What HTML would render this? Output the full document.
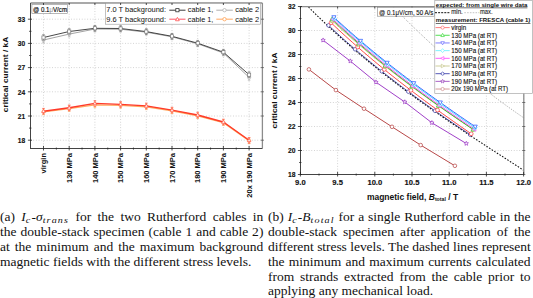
<!DOCTYPE html>
<html><head><meta charset="utf-8"><style>
html,body{margin:0;padding:0;background:#fff;}
body{width:533px;height:298px;position:relative;overflow:hidden;}
.cap{position:absolute;font-family:"Liberation Serif",serif;font-size:11.8px;line-height:14.84px;color:#111;white-space:nowrap;}
.ln{display:block;text-align:justify;text-align-last:justify;height:14.84px;}
.ln.last{text-align-last:left;}
i{font-style:italic;}
sub{font-size:8.8px;vertical-align:-1.6px;line-height:0;font-style:italic;letter-spacing:1.0px;}
</style></head><body>
<svg width="533" height="298" viewBox="0 0 533 298" style="position:absolute;left:0;top:0" font-family='"Liberation Sans", sans-serif'><line x1="43.5" y1="3.0" x2="43.5" y2="148.5" stroke="#c4c4c4" stroke-width="0.8" stroke-dasharray="0.9,1.8"/><line x1="69.2" y1="3.0" x2="69.2" y2="148.5" stroke="#c4c4c4" stroke-width="0.8" stroke-dasharray="0.9,1.8"/><line x1="94.9" y1="3.0" x2="94.9" y2="148.5" stroke="#c4c4c4" stroke-width="0.8" stroke-dasharray="0.9,1.8"/><line x1="120.6" y1="3.0" x2="120.6" y2="148.5" stroke="#c4c4c4" stroke-width="0.8" stroke-dasharray="0.9,1.8"/><line x1="146.3" y1="3.0" x2="146.3" y2="148.5" stroke="#c4c4c4" stroke-width="0.8" stroke-dasharray="0.9,1.8"/><line x1="172" y1="3.0" x2="172" y2="148.5" stroke="#c4c4c4" stroke-width="0.8" stroke-dasharray="0.9,1.8"/><line x1="197.7" y1="3.0" x2="197.7" y2="148.5" stroke="#c4c4c4" stroke-width="0.8" stroke-dasharray="0.9,1.8"/><line x1="223.4" y1="3.0" x2="223.4" y2="148.5" stroke="#c4c4c4" stroke-width="0.8" stroke-dasharray="0.9,1.8"/><line x1="249.1" y1="3.0" x2="249.1" y2="148.5" stroke="#c4c4c4" stroke-width="0.8" stroke-dasharray="0.9,1.8"/><line x1="30.5" y1="19.2" x2="262.4" y2="19.2" stroke="#c4c4c4" stroke-width="0.8" stroke-dasharray="0.9,1.8"/><line x1="30.5" y1="43.4" x2="262.4" y2="43.4" stroke="#c4c4c4" stroke-width="0.8" stroke-dasharray="0.9,1.8"/><line x1="30.5" y1="67.6" x2="262.4" y2="67.6" stroke="#c4c4c4" stroke-width="0.8" stroke-dasharray="0.9,1.8"/><line x1="30.5" y1="91.8" x2="262.4" y2="91.8" stroke="#c4c4c4" stroke-width="0.8" stroke-dasharray="0.9,1.8"/><line x1="30.5" y1="116" x2="262.4" y2="116" stroke="#c4c4c4" stroke-width="0.8" stroke-dasharray="0.9,1.8"/><line x1="30.5" y1="140.2" x2="262.4" y2="140.2" stroke="#c4c4c4" stroke-width="0.8" stroke-dasharray="0.9,1.8"/><polyline points="43.5,40 69.2,34.1 94.9,29 120.6,29.2 146.3,32.2 172,36.8 197.7,43.8 223.4,53 249.1,77.4" fill="none" stroke="#999" stroke-width="0.9" stroke-linejoin="round"/><path d="M43.5,37.2V42.8M42.2,37.2H44.8M42.2,42.8H44.8" stroke="#aaa" stroke-width="0.7" fill="none"/><circle cx="43.5" cy="40" r="1.6" fill="#fff" stroke="#aaa" stroke-width="0.7"/><path d="M69.2,31.3V36.9M67.9,31.3H70.5M67.9,36.9H70.5" stroke="#aaa" stroke-width="0.7" fill="none"/><circle cx="69.2" cy="34.1" r="1.6" fill="#fff" stroke="#aaa" stroke-width="0.7"/><path d="M94.9,26.2V31.8M93.6,26.2H96.2M93.6,31.8H96.2" stroke="#aaa" stroke-width="0.7" fill="none"/><circle cx="94.9" cy="29" r="1.6" fill="#fff" stroke="#aaa" stroke-width="0.7"/><path d="M120.6,26.4V32M119.3,26.4H121.9M119.3,32H121.9" stroke="#aaa" stroke-width="0.7" fill="none"/><circle cx="120.6" cy="29.2" r="1.6" fill="#fff" stroke="#aaa" stroke-width="0.7"/><path d="M146.3,29.4V35M145,29.4H147.6M145,35H147.6" stroke="#aaa" stroke-width="0.7" fill="none"/><circle cx="146.3" cy="32.2" r="1.6" fill="#fff" stroke="#aaa" stroke-width="0.7"/><path d="M172,34V39.6M170.7,34H173.3M170.7,39.6H173.3" stroke="#aaa" stroke-width="0.7" fill="none"/><circle cx="172" cy="36.8" r="1.6" fill="#fff" stroke="#aaa" stroke-width="0.7"/><path d="M197.7,41V46.6M196.4,41H199M196.4,46.6H199" stroke="#aaa" stroke-width="0.7" fill="none"/><circle cx="197.7" cy="43.8" r="1.6" fill="#fff" stroke="#aaa" stroke-width="0.7"/><path d="M223.4,50.2V55.8M222.1,50.2H224.7M222.1,55.8H224.7" stroke="#aaa" stroke-width="0.7" fill="none"/><circle cx="223.4" cy="53" r="1.6" fill="#fff" stroke="#aaa" stroke-width="0.7"/><path d="M249.1,74.6V80.2M247.8,74.6H250.4M247.8,80.2H250.4" stroke="#aaa" stroke-width="0.7" fill="none"/><circle cx="249.1" cy="77.4" r="1.6" fill="#fff" stroke="#aaa" stroke-width="0.7"/><polyline points="43.5,37.5 69.2,31.5 94.9,28.3 120.6,28.5 146.3,31.6 172,36.3 197.7,43.2 223.4,52.2 249.1,74.7" fill="none" stroke="#333" stroke-width="0.9" stroke-linejoin="round"/><path d="M43.5,34.7V40.3M42.2,34.7H44.8M42.2,40.3H44.8" stroke="#777" stroke-width="0.7" fill="none"/><rect x="41.9" y="35.9" width="3.2" height="3.2" fill="#fff" stroke="#777" stroke-width="0.7"/><path d="M69.2,28.7V34.3M67.9,28.7H70.5M67.9,34.3H70.5" stroke="#777" stroke-width="0.7" fill="none"/><rect x="67.6" y="29.9" width="3.2" height="3.2" fill="#fff" stroke="#777" stroke-width="0.7"/><path d="M94.9,25.5V31.1M93.6,25.5H96.2M93.6,31.1H96.2" stroke="#777" stroke-width="0.7" fill="none"/><rect x="93.3" y="26.7" width="3.2" height="3.2" fill="#fff" stroke="#777" stroke-width="0.7"/><path d="M120.6,25.7V31.3M119.3,25.7H121.9M119.3,31.3H121.9" stroke="#777" stroke-width="0.7" fill="none"/><rect x="119" y="26.9" width="3.2" height="3.2" fill="#fff" stroke="#777" stroke-width="0.7"/><path d="M146.3,28.8V34.4M145,28.8H147.6M145,34.4H147.6" stroke="#777" stroke-width="0.7" fill="none"/><rect x="144.7" y="30" width="3.2" height="3.2" fill="#fff" stroke="#777" stroke-width="0.7"/><path d="M172,33.5V39.1M170.7,33.5H173.3M170.7,39.1H173.3" stroke="#777" stroke-width="0.7" fill="none"/><rect x="170.4" y="34.7" width="3.2" height="3.2" fill="#fff" stroke="#777" stroke-width="0.7"/><path d="M197.7,40.4V46M196.4,40.4H199M196.4,46H199" stroke="#777" stroke-width="0.7" fill="none"/><rect x="196.1" y="41.6" width="3.2" height="3.2" fill="#fff" stroke="#777" stroke-width="0.7"/><path d="M223.4,49.4V55M222.1,49.4H224.7M222.1,55H224.7" stroke="#777" stroke-width="0.7" fill="none"/><rect x="221.8" y="50.6" width="3.2" height="3.2" fill="#fff" stroke="#777" stroke-width="0.7"/><path d="M249.1,71.9V77.5M247.8,71.9H250.4M247.8,77.5H250.4" stroke="#777" stroke-width="0.7" fill="none"/><rect x="247.5" y="73.1" width="3.2" height="3.2" fill="#fff" stroke="#777" stroke-width="0.7"/><polyline points="43.5,111.9 69.2,108.6 94.9,104.9 120.6,105.4 146.3,106.8 172,110.8 197.7,115.8 223.4,122.6 249.1,140.8" fill="none" stroke="#ffaa60" stroke-width="1.4" stroke-linejoin="round"/><path d="M43.5,109.1V114.7M42.2,109.1H44.8M42.2,114.7H44.8" stroke="#ffa858" stroke-width="0.7" fill="none"/><circle cx="43.5" cy="111.9" r="1.6" fill="#fff" stroke="#ffa858" stroke-width="0.7"/><path d="M69.2,105.8V111.4M67.9,105.8H70.5M67.9,111.4H70.5" stroke="#ffa858" stroke-width="0.7" fill="none"/><circle cx="69.2" cy="108.6" r="1.6" fill="#fff" stroke="#ffa858" stroke-width="0.7"/><path d="M94.9,102.1V107.7M93.6,102.1H96.2M93.6,107.7H96.2" stroke="#ffa858" stroke-width="0.7" fill="none"/><circle cx="94.9" cy="104.9" r="1.6" fill="#fff" stroke="#ffa858" stroke-width="0.7"/><path d="M120.6,102.6V108.2M119.3,102.6H121.9M119.3,108.2H121.9" stroke="#ffa858" stroke-width="0.7" fill="none"/><circle cx="120.6" cy="105.4" r="1.6" fill="#fff" stroke="#ffa858" stroke-width="0.7"/><path d="M146.3,104V109.6M145,104H147.6M145,109.6H147.6" stroke="#ffa858" stroke-width="0.7" fill="none"/><circle cx="146.3" cy="106.8" r="1.6" fill="#fff" stroke="#ffa858" stroke-width="0.7"/><path d="M172,108V113.6M170.7,108H173.3M170.7,113.6H173.3" stroke="#ffa858" stroke-width="0.7" fill="none"/><circle cx="172" cy="110.8" r="1.6" fill="#fff" stroke="#ffa858" stroke-width="0.7"/><path d="M197.7,113V118.6M196.4,113H199M196.4,118.6H199" stroke="#ffa858" stroke-width="0.7" fill="none"/><circle cx="197.7" cy="115.8" r="1.6" fill="#fff" stroke="#ffa858" stroke-width="0.7"/><path d="M223.4,119.8V125.4M222.1,119.8H224.7M222.1,125.4H224.7" stroke="#ffa858" stroke-width="0.7" fill="none"/><circle cx="223.4" cy="122.6" r="1.6" fill="#fff" stroke="#ffa858" stroke-width="0.7"/><path d="M249.1,138V143.6M247.8,138H250.4M247.8,143.6H250.4" stroke="#ffa858" stroke-width="0.7" fill="none"/><circle cx="249.1" cy="140.8" r="1.6" fill="#fff" stroke="#ffa858" stroke-width="0.7"/><polyline points="43.5,111.2 69.2,107.8 94.9,103.4 120.6,104.4 146.3,105.9 172,110.1 197.7,115 223.4,122 249.1,140.3" fill="none" stroke="#ff3a2a" stroke-width="1.4" stroke-linejoin="round"/><path d="M43.5,108.4V114M42.2,108.4H44.8M42.2,114H44.8" stroke="#ff5a4a" stroke-width="0.7" fill="none"/><polygon points="43.5,109.28 41.74,112.48 45.26,112.48" fill="#fff" stroke="#ff5a4a" stroke-width="0.7"/><path d="M69.2,105V110.6M67.9,105H70.5M67.9,110.6H70.5" stroke="#ff5a4a" stroke-width="0.7" fill="none"/><polygon points="69.2,105.88 67.44,109.08 70.96,109.08" fill="#fff" stroke="#ff5a4a" stroke-width="0.7"/><path d="M94.9,100.6V106.2M93.6,100.6H96.2M93.6,106.2H96.2" stroke="#ff5a4a" stroke-width="0.7" fill="none"/><polygon points="94.9,101.48 93.14,104.68 96.66,104.68" fill="#fff" stroke="#ff5a4a" stroke-width="0.7"/><path d="M120.6,101.6V107.2M119.3,101.6H121.9M119.3,107.2H121.9" stroke="#ff5a4a" stroke-width="0.7" fill="none"/><polygon points="120.6,102.48 118.84,105.68 122.36,105.68" fill="#fff" stroke="#ff5a4a" stroke-width="0.7"/><path d="M146.3,103.1V108.7M145,103.1H147.6M145,108.7H147.6" stroke="#ff5a4a" stroke-width="0.7" fill="none"/><polygon points="146.3,103.98 144.54,107.18 148.06,107.18" fill="#fff" stroke="#ff5a4a" stroke-width="0.7"/><path d="M172,107.3V112.9M170.7,107.3H173.3M170.7,112.9H173.3" stroke="#ff5a4a" stroke-width="0.7" fill="none"/><polygon points="172,108.18 170.24,111.38 173.76,111.38" fill="#fff" stroke="#ff5a4a" stroke-width="0.7"/><path d="M197.7,112.2V117.8M196.4,112.2H199M196.4,117.8H199" stroke="#ff5a4a" stroke-width="0.7" fill="none"/><polygon points="197.7,113.08 195.94,116.28 199.46,116.28" fill="#fff" stroke="#ff5a4a" stroke-width="0.7"/><path d="M223.4,119.2V124.8M222.1,119.2H224.7M222.1,124.8H224.7" stroke="#ff5a4a" stroke-width="0.7" fill="none"/><polygon points="223.4,120.08 221.64,123.28 225.16,123.28" fill="#fff" stroke="#ff5a4a" stroke-width="0.7"/><path d="M249.1,137.5V143.1M247.8,137.5H250.4M247.8,143.1H250.4" stroke="#ff5a4a" stroke-width="0.7" fill="none"/><polygon points="249.1,138.38 247.34,141.58 250.86,141.58" fill="#fff" stroke="#ff5a4a" stroke-width="0.7"/><line x1="30.5" y1="3.0" x2="262.4" y2="3.0" stroke="#8c8c8c" stroke-width="1.3"/><line x1="262.4" y1="3.0" x2="262.4" y2="148.5" stroke="#8c8c8c" stroke-width="1.3"/><line x1="30.5" y1="3.0" x2="30.5" y2="149.0" stroke="#444" stroke-width="1"/><line x1="30.0" y1="148.5" x2="262.4" y2="148.5" stroke="#444" stroke-width="1"/><line x1="27.9" y1="19.2" x2="32.0" y2="19.2" stroke="#222" stroke-width="0.8"/><line x1="260.9" y1="19.2" x2="263.9" y2="19.2" stroke="#555" stroke-width="0.8"/><text x="25.2" y="22.05" font-size="7.8" font-weight="bold" text-anchor="end" textLength="7.4" lengthAdjust="spacingAndGlyphs" fill="#111" stroke="#111" stroke-width="0.15">33</text><line x1="29.0" y1="31.3" x2="31.5" y2="31.3" stroke="#222" stroke-width="0.7"/><line x1="27.9" y1="43.4" x2="32.0" y2="43.4" stroke="#222" stroke-width="0.8"/><line x1="260.9" y1="43.4" x2="263.9" y2="43.4" stroke="#555" stroke-width="0.8"/><text x="25.2" y="46.25" font-size="7.8" font-weight="bold" text-anchor="end" textLength="7.4" lengthAdjust="spacingAndGlyphs" fill="#111" stroke="#111" stroke-width="0.15">30</text><line x1="29.0" y1="55.5" x2="31.5" y2="55.5" stroke="#222" stroke-width="0.7"/><line x1="27.9" y1="67.6" x2="32.0" y2="67.6" stroke="#222" stroke-width="0.8"/><line x1="260.9" y1="67.6" x2="263.9" y2="67.6" stroke="#555" stroke-width="0.8"/><text x="25.2" y="70.45" font-size="7.8" font-weight="bold" text-anchor="end" textLength="7.4" lengthAdjust="spacingAndGlyphs" fill="#111" stroke="#111" stroke-width="0.15">27</text><line x1="29.0" y1="79.7" x2="31.5" y2="79.7" stroke="#222" stroke-width="0.7"/><line x1="27.9" y1="91.8" x2="32.0" y2="91.8" stroke="#222" stroke-width="0.8"/><line x1="260.9" y1="91.8" x2="263.9" y2="91.8" stroke="#555" stroke-width="0.8"/><text x="25.2" y="94.65" font-size="7.8" font-weight="bold" text-anchor="end" textLength="7.4" lengthAdjust="spacingAndGlyphs" fill="#111" stroke="#111" stroke-width="0.15">24</text><line x1="29.0" y1="103.9" x2="31.5" y2="103.9" stroke="#222" stroke-width="0.7"/><line x1="27.9" y1="116" x2="32.0" y2="116" stroke="#222" stroke-width="0.8"/><line x1="260.9" y1="116" x2="263.9" y2="116" stroke="#555" stroke-width="0.8"/><text x="25.2" y="118.85" font-size="7.8" font-weight="bold" text-anchor="end" textLength="7.4" lengthAdjust="spacingAndGlyphs" fill="#111" stroke="#111" stroke-width="0.15">21</text><line x1="29.0" y1="128.1" x2="31.5" y2="128.1" stroke="#222" stroke-width="0.7"/><line x1="27.9" y1="140.2" x2="32.0" y2="140.2" stroke="#222" stroke-width="0.8"/><line x1="260.9" y1="140.2" x2="263.9" y2="140.2" stroke="#555" stroke-width="0.8"/><text x="25.2" y="143.05" font-size="7.8" font-weight="bold" text-anchor="end" textLength="7.4" lengthAdjust="spacingAndGlyphs" fill="#111" stroke="#111" stroke-width="0.15">18</text><line x1="43.5" y1="145.9" x2="43.5" y2="150.5" stroke="#222" stroke-width="0.8"/><line x1="56.35" y1="147.5" x2="56.35" y2="149.7" stroke="#222" stroke-width="0.7"/><line x1="69.2" y1="145.9" x2="69.2" y2="150.5" stroke="#222" stroke-width="0.8"/><line x1="82.05" y1="147.5" x2="82.05" y2="149.7" stroke="#222" stroke-width="0.7"/><line x1="94.9" y1="145.9" x2="94.9" y2="150.5" stroke="#222" stroke-width="0.8"/><line x1="107.75" y1="147.5" x2="107.75" y2="149.7" stroke="#222" stroke-width="0.7"/><line x1="120.6" y1="145.9" x2="120.6" y2="150.5" stroke="#222" stroke-width="0.8"/><line x1="133.45" y1="147.5" x2="133.45" y2="149.7" stroke="#222" stroke-width="0.7"/><line x1="146.3" y1="145.9" x2="146.3" y2="150.5" stroke="#222" stroke-width="0.8"/><line x1="159.15" y1="147.5" x2="159.15" y2="149.7" stroke="#222" stroke-width="0.7"/><line x1="172" y1="145.9" x2="172" y2="150.5" stroke="#222" stroke-width="0.8"/><line x1="184.85" y1="147.5" x2="184.85" y2="149.7" stroke="#222" stroke-width="0.7"/><line x1="197.7" y1="145.9" x2="197.7" y2="150.5" stroke="#222" stroke-width="0.8"/><line x1="210.55" y1="147.5" x2="210.55" y2="149.7" stroke="#222" stroke-width="0.7"/><line x1="223.4" y1="145.9" x2="223.4" y2="150.5" stroke="#222" stroke-width="0.8"/><line x1="236.25" y1="147.5" x2="236.25" y2="149.7" stroke="#222" stroke-width="0.7"/><line x1="249.1" y1="145.9" x2="249.1" y2="150.5" stroke="#222" stroke-width="0.8"/><text transform="translate(46.1,153) rotate(-90)" font-size="7.5" font-weight="bold" text-anchor="end" fill="#111">virgin</text><text transform="translate(71.8,153) rotate(-90)" font-size="7.5" font-weight="bold" text-anchor="end" fill="#111">130 MPa</text><text transform="translate(97.5,153) rotate(-90)" font-size="7.5" font-weight="bold" text-anchor="end" fill="#111">140 MPa</text><text transform="translate(123.2,153) rotate(-90)" font-size="7.5" font-weight="bold" text-anchor="end" fill="#111">150 MPa</text><text transform="translate(148.9,153) rotate(-90)" font-size="7.5" font-weight="bold" text-anchor="end" fill="#111">160 MPa</text><text transform="translate(174.6,153) rotate(-90)" font-size="7.5" font-weight="bold" text-anchor="end" fill="#111">170 MPa</text><text transform="translate(200.3,153) rotate(-90)" font-size="7.5" font-weight="bold" text-anchor="end" fill="#111">180 MPa</text><text transform="translate(226,153) rotate(-90)" font-size="7.5" font-weight="bold" text-anchor="end" fill="#111">190 MPa</text><text transform="translate(251.7,153) rotate(-90)" font-size="7.5" font-weight="bold" text-anchor="end" fill="#111">20x 190 MPa</text><text transform="translate(7.7,74.5) rotate(-90)" font-size="7.7" font-weight="bold" text-anchor="middle" textLength="75.5" lengthAdjust="spacingAndGlyphs" fill="#111">critical current / kA</text><rect x="31.9" y="4.5" width="35.7" height="8.8" fill="#fff" stroke="#888" stroke-width="0.6"/><text x="33" y="11.6" font-size="7.0" textLength="34" lengthAdjust="spacingAndGlyphs" fill="#000" stroke="#000" stroke-width="0.15">@ 0.1<tspan fill="#888" stroke="none">μ</tspan>V/cm</text><rect x="105.6" y="3.4" width="155" height="20.8" fill="#fff" stroke="#999" stroke-width="0.6"/><text x="106.3" y="12.2" font-size="7.5" textLength="59.7" lengthAdjust="spacingAndGlyphs" fill="#111">7.0 T background:</text><text x="106.3" y="21.8" font-size="7.5" textLength="59.7" lengthAdjust="spacingAndGlyphs" fill="#111">9.6 T background:</text><text x="187.8" y="12.2" font-size="7.5" textLength="25.5" lengthAdjust="spacingAndGlyphs" fill="#111">cable 1,</text><text x="187.8" y="21.8" font-size="7.5" textLength="25.5" lengthAdjust="spacingAndGlyphs" fill="#111">cable 1,</text><text x="235.2" y="12.2" font-size="7.5" textLength="24" lengthAdjust="spacingAndGlyphs" fill="#111">cable 2</text><text x="235.2" y="21.8" font-size="7.5" textLength="24" lengthAdjust="spacingAndGlyphs" fill="#111">cable 2</text><line x1="169.3" y1="10.2" x2="185.5" y2="10.2" stroke="#222" stroke-width="0.9"/><rect x="175.8" y="8.6" width="3.2" height="3.2" fill="#fff" stroke="#333" stroke-width="0.8"/><line x1="216.3" y1="10.2" x2="232.8" y2="10.2" stroke="#999" stroke-width="0.8"/><circle cx="224.5" cy="10.2" r="1.7" fill="#fff" stroke="#aaa" stroke-width="0.7"/><line x1="169.3" y1="19.2" x2="185.5" y2="19.2" stroke="#ff6070" stroke-width="1.1"/><polygon points="177.4,17.36 175.53,20.76 179.27,20.76" fill="#fff" stroke="#ff5050" stroke-width="0.8"/><line x1="216.3" y1="19.2" x2="232.8" y2="19.2" stroke="#ffb070" stroke-width="1.1"/><circle cx="224.5" cy="19.2" r="1.7" fill="#fff" stroke="#ffa050" stroke-width="0.8"/><line x1="43.5" y1="3.0" x2="43.5" y2="5.0" stroke="#222" stroke-width="0.8"/><line x1="69.2" y1="3.0" x2="69.2" y2="5.0" stroke="#222" stroke-width="0.8"/><line x1="94.9" y1="3.0" x2="94.9" y2="5.0" stroke="#222" stroke-width="0.8"/><line x1="120.6" y1="3.0" x2="120.6" y2="5.0" stroke="#222" stroke-width="0.8"/><line x1="146.3" y1="3.0" x2="146.3" y2="5.0" stroke="#222" stroke-width="0.8"/><line x1="172" y1="3.0" x2="172" y2="5.0" stroke="#222" stroke-width="0.8"/><line x1="197.7" y1="3.0" x2="197.7" y2="5.0" stroke="#222" stroke-width="0.8"/><line x1="223.4" y1="3.0" x2="223.4" y2="5.0" stroke="#222" stroke-width="0.8"/><line x1="249.1" y1="3.0" x2="249.1" y2="5.0" stroke="#222" stroke-width="0.8"/><line x1="300.4" y1="6.6" x2="300.4" y2="174.5" stroke="#c4c4c4" stroke-width="0.8" stroke-dasharray="0.9,1.8"/><line x1="337.6" y1="6.6" x2="337.6" y2="174.5" stroke="#c4c4c4" stroke-width="0.8" stroke-dasharray="0.9,1.8"/><line x1="374.8" y1="6.6" x2="374.8" y2="174.5" stroke="#c4c4c4" stroke-width="0.8" stroke-dasharray="0.9,1.8"/><line x1="412" y1="6.6" x2="412" y2="174.5" stroke="#c4c4c4" stroke-width="0.8" stroke-dasharray="0.9,1.8"/><line x1="449.2" y1="6.6" x2="449.2" y2="174.5" stroke="#c4c4c4" stroke-width="0.8" stroke-dasharray="0.9,1.8"/><line x1="486.4" y1="6.6" x2="486.4" y2="174.5" stroke="#c4c4c4" stroke-width="0.8" stroke-dasharray="0.9,1.8"/><line x1="523.6" y1="6.6" x2="523.6" y2="174.5" stroke="#c4c4c4" stroke-width="0.8" stroke-dasharray="0.9,1.8"/><line x1="300.5" y1="174.5" x2="523.8" y2="174.5" stroke="#c4c4c4" stroke-width="0.8" stroke-dasharray="0.9,1.8"/><line x1="300.5" y1="150.5" x2="523.8" y2="150.5" stroke="#c4c4c4" stroke-width="0.8" stroke-dasharray="0.9,1.8"/><line x1="300.5" y1="126.5" x2="523.8" y2="126.5" stroke="#c4c4c4" stroke-width="0.8" stroke-dasharray="0.9,1.8"/><line x1="300.5" y1="102.5" x2="523.8" y2="102.5" stroke="#c4c4c4" stroke-width="0.8" stroke-dasharray="0.9,1.8"/><line x1="300.5" y1="78.5" x2="523.8" y2="78.5" stroke="#c4c4c4" stroke-width="0.8" stroke-dasharray="0.9,1.8"/><line x1="300.5" y1="54.5" x2="523.8" y2="54.5" stroke="#c4c4c4" stroke-width="0.8" stroke-dasharray="0.9,1.8"/><line x1="300.5" y1="30.5" x2="523.8" y2="30.5" stroke="#c4c4c4" stroke-width="0.8" stroke-dasharray="0.9,1.8"/><line x1="300.5" y1="6.5" x2="523.8" y2="6.5" stroke="#c4c4c4" stroke-width="0.8" stroke-dasharray="0.9,1.8"/><polyline points="393,6.77 395.67,9.48 398.33,12.17 401,14.85 403.66,17.5 406.33,20.14 408.99,22.76 411.66,25.36 414.32,27.94 416.99,30.5 419.65,33.04 422.32,35.57 424.98,38.07 427.65,40.56 430.31,43.03 432.98,45.48 435.64,47.91 438.31,50.32 440.98,52.72 443.64,55.09 446.31,57.45 448.97,59.79 451.64,62.11 454.3,64.41 456.97,66.69 459.63,68.96 462.3,71.2 464.96,73.43 467.63,75.64 470.29,77.83 472.96,80 475.62,82.15 478.29,84.29 480.96,86.4 483.62,88.5 486.29,90.58 488.95,92.64 491.62,94.68 494.28,96.7 496.95,98.71 499.61,100.69 502.28,102.66 504.94,104.61 507.61,106.54 510.27,108.45 512.94,110.34 515.6,112.22 518.27,114.07 520.93,115.91 523.6,117.73" fill="none" stroke="#999" stroke-width="0.9" stroke-dasharray="1,1.3"/><polyline points="328.5,25.43 332.13,28.81 335.77,32.15 339.4,35.46 343.03,38.72 346.67,41.94 350.3,45.13 353.93,48.28 357.57,51.4 361.2,54.48 364.83,57.52 368.47,60.54 372.1,63.52 375.73,66.47 379.37,69.39 383,72.28 386.63,75.14 390.27,77.97 393.9,80.78 397.53,83.56 401.17,86.31 404.8,89.04 408.43,91.74 412.07,94.42 415.7,97.08 419.33,99.71 422.97,102.32 426.6,104.92 430.23,107.49 433.87,110.05 437.5,112.58 441.13,115.11 444.77,117.61 448.4,120.1 452.03,122.57 455.67,125.03 459.3,127.48 462.93,129.91 466.57,132.34 470.2,134.75" fill="none" stroke="#4040a8" stroke-width="0.95"/><polyline points="331.1,22.77 334.69,26.16 338.28,29.52 341.88,32.83 345.47,36.11 349.06,39.36 352.65,42.56 356.25,45.74 359.84,48.88 363.43,51.98 367.02,55.06 370.62,58.1 374.21,61.12 377.8,64.1 381.39,67.06 384.98,69.98 388.58,72.88 392.17,75.75 395.76,78.6 399.35,81.42 402.95,84.22 406.54,86.99 410.13,89.75 413.72,92.47 417.32,95.18 420.91,97.87 424.5,100.54 428.09,103.19 431.68,105.82 435.28,108.43 438.87,111.03 442.46,113.61 446.05,116.18 449.65,118.73 453.24,121.27 456.83,123.79 460.42,126.31 464.02,128.81 467.61,131.3 471.2,133.78" fill="none" stroke="#ff3c3c" stroke-width="0.95"/><polyline points="332.4,20.84 336.02,24.19 339.64,27.51 343.26,30.79 346.88,34.02 350.5,37.23 354.12,40.39 357.74,43.52 361.36,46.62 364.98,49.68 368.61,52.71 372.23,55.71 375.85,58.68 379.47,61.61 383.09,64.52 386.71,67.4 390.33,70.25 393.95,73.07 397.57,75.87 401.19,78.64 404.81,81.38 408.43,84.1 412.05,86.8 415.67,89.48 419.29,92.13 422.91,94.76 426.53,97.37 430.15,99.97 433.77,102.54 437.39,105.1 441.02,107.64 444.64,110.16 448.26,112.67 451.88,115.16 455.5,117.64 459.12,120.11 462.74,122.57 466.36,125.01 469.98,127.44 473.6,129.86" fill="none" stroke="#b8b860" stroke-width="0.95"/><polyline points="332.1,19.22 335.72,22.63 339.34,25.99 342.95,29.31 346.57,32.59 350.19,35.84 353.81,39.05 357.43,42.22 361.04,45.36 364.66,48.47 368.28,51.54 371.9,54.57 375.52,57.58 379.13,60.55 382.75,63.49 386.37,66.41 389.99,69.29 393.61,72.15 397.22,74.98 400.84,77.78 404.46,80.55 408.08,83.3 411.69,86.03 415.31,88.73 418.93,91.41 422.55,94.07 426.17,96.71 429.78,99.32 433.4,101.92 437.02,104.5 440.64,107.06 444.26,109.6 447.87,112.13 451.49,114.64 455.11,117.14 458.73,119.62 462.35,122.09 465.96,124.55 469.58,126.99 473.2,129.43" fill="none" stroke="#30c030" stroke-width="0.95"/><polyline points="333.2,19.27 336.82,22.65 340.44,25.99 344.06,29.3 347.68,32.57 351.3,35.8 354.92,38.99 358.54,42.15 362.16,45.27 365.78,48.36 369.41,51.42 373.03,54.44 376.65,57.44 380.27,60.4 383.89,63.33 387.51,66.23 391.13,69.1 394.75,71.95 398.37,74.77 401.99,77.56 405.61,80.33 409.23,83.07 412.85,85.79 416.47,88.48 420.09,91.16 423.71,93.81 427.33,96.44 430.95,99.05 434.57,101.65 438.19,104.22 441.82,106.78 445.44,109.32 449.06,111.84 452.68,114.35 456.3,116.85 459.92,119.33 463.54,121.8 467.16,124.26 470.78,126.7 474.4,129.14" fill="none" stroke="#ff40ff" stroke-width="0.95"/><polyline points="334.2,18.51 337.81,21.84 341.42,25.14 345.03,28.4 348.64,31.62 352.25,34.81 355.86,37.96 359.47,41.08 363.08,44.17 366.69,47.22 370.3,50.25 373.91,53.24 377.52,56.2 381.13,59.14 384.74,62.04 388.35,64.92 391.96,67.77 395.57,70.6 399.18,73.4 402.79,76.18 406.41,78.93 410.02,81.66 413.63,84.37 417.24,87.05 420.85,89.72 424.46,92.37 428.07,95 431.68,97.61 435.29,100.2 438.9,102.78 442.51,105.34 446.12,107.89 449.73,110.42 453.34,112.94 456.95,115.44 460.56,117.94 464.17,120.42 467.78,122.9 471.39,125.36 475,127.82" fill="none" stroke="#40d8ff" stroke-width="0.95"/><polyline points="333.9,17.24 337.52,20.57 341.15,23.87 344.77,27.13 348.39,30.35 352.02,33.54 355.64,36.69 359.26,39.82 362.88,42.9 366.51,45.96 370.13,48.98 373.75,51.98 377.38,54.94 381,57.88 384.62,60.78 388.25,63.66 391.87,66.52 395.49,69.34 399.12,72.15 402.74,74.93 406.36,77.68 409.98,80.41 413.61,83.12 417.23,85.81 420.85,88.48 424.48,91.13 428.1,93.77 431.72,96.38 435.35,98.98 438.97,101.56 442.59,104.12 446.22,106.67 449.84,109.21 453.46,111.73 457.08,114.25 460.71,116.75 464.33,119.23 467.95,121.71 471.58,124.18 475.2,126.65" fill="none" stroke="#2c5cff" stroke-width="0.95"/><polyline points="308.5,7.11 312.15,10.73 315.79,14.31 319.44,17.84 323.08,21.33 326.73,24.78 330.37,28.19 334.02,31.56 337.67,34.88 341.31,38.17 344.96,41.42 348.6,44.63 352.25,47.8 355.89,50.94 359.54,54.04 363.19,57.1 366.83,60.14 370.48,63.14 374.12,66.11 377.77,69.05 381.42,71.95 385.06,74.83 388.71,77.68 392.35,80.5 396,83.29 399.64,86.06 403.29,88.8 406.94,91.52 410.58,94.21 414.23,96.88 417.87,99.53 421.52,102.15 425.16,104.76 428.81,107.34 432.46,109.91 436.1,112.45 439.75,114.98 443.39,117.5 447.04,120 450.68,122.48 454.33,124.95 457.98,127.4 461.62,129.84 465.27,132.27 468.91,134.69 472.56,137.1 476.21,139.5 479.85,141.89 483.5,144.27 487.14,146.65 490.79,149.02 494.43,151.38 498.08,153.74 501.73,156.1 505.37,158.45 509.02,160.8 512.66,163.15 516.31,165.5 519.95,167.85 523.6,170.2" fill="none" stroke="#111" stroke-width="1.05" stroke-dasharray="1.6,1.5"/><polygon points="330.15,26.38 328.5,27.33 326.85,26.38 326.85,24.48 328.5,23.53 330.15,24.48" fill="#fff" stroke="#4040a8" stroke-width="0.75"/><polygon points="356.75,50.24 355.1,51.19 353.45,50.24 353.45,48.34 355.1,47.39 356.75,48.34" fill="#fff" stroke="#4040a8" stroke-width="0.75"/><polygon points="383.35,72.2 381.7,73.15 380.05,72.2 380.05,70.3 381.7,69.35 383.35,70.3" fill="#fff" stroke="#4040a8" stroke-width="0.75"/><polygon points="409.95,92.59 408.3,93.54 406.65,92.59 406.65,90.69 408.3,89.74 409.95,90.69" fill="#fff" stroke="#4040a8" stroke-width="0.75"/><polygon points="436.55,111.72 434.9,112.67 433.25,111.72 433.25,109.82 434.9,108.87 436.55,109.82" fill="#fff" stroke="#4040a8" stroke-width="0.75"/><polygon points="471.85,135.7 470.2,136.65 468.55,135.7 468.55,133.8 470.2,132.85 471.85,133.8" fill="#fff" stroke="#4040a8" stroke-width="0.75"/><circle cx="331.1" cy="22.77" r="1.9" fill="#fff" stroke="#ff3c3c" stroke-width="0.75"/><circle cx="357.7" cy="47.01" r="1.9" fill="#fff" stroke="#ff3c3c" stroke-width="0.75"/><circle cx="384.3" cy="69.43" r="1.9" fill="#fff" stroke="#ff3c3c" stroke-width="0.75"/><circle cx="410.9" cy="90.33" r="1.9" fill="#fff" stroke="#ff3c3c" stroke-width="0.75"/><circle cx="437.5" cy="110.04" r="1.9" fill="#fff" stroke="#ff3c3c" stroke-width="0.75"/><circle cx="471.2" cy="133.78" r="1.9" fill="#fff" stroke="#ff3c3c" stroke-width="0.75"/><polygon points="334.68,20.84 330.88,18.75 330.88,22.93" fill="#fff" stroke="#b8b860" stroke-width="0.75"/><polygon points="361.28,44.6 357.48,42.51 357.48,46.69" fill="#fff" stroke="#b8b860" stroke-width="0.75"/><polygon points="387.88,66.52 384.08,64.43 384.08,68.61" fill="#fff" stroke="#b8b860" stroke-width="0.75"/><polygon points="414.48,86.91 410.68,84.82 410.68,89" fill="#fff" stroke="#b8b860" stroke-width="0.75"/><polygon points="441.08,106.09 437.28,104 437.28,108.18" fill="#fff" stroke="#b8b860" stroke-width="0.75"/><polygon points="475.88,129.86 472.08,127.77 472.08,131.95" fill="#fff" stroke="#b8b860" stroke-width="0.75"/><polygon points="332.1,16.94 330.01,20.74 334.19,20.74" fill="#fff" stroke="#30c030" stroke-width="0.75"/><polygon points="358.7,41.05 356.61,44.85 360.79,44.85" fill="#fff" stroke="#30c030" stroke-width="0.75"/><polygon points="385.3,63.27 383.21,67.07 387.39,67.07" fill="#fff" stroke="#30c030" stroke-width="0.75"/><polygon points="411.9,83.9 409.81,87.7 413.99,87.7" fill="#fff" stroke="#30c030" stroke-width="0.75"/><polygon points="438.5,103.27 436.41,107.07 440.59,107.07" fill="#fff" stroke="#30c030" stroke-width="0.75"/><polygon points="473.2,127.15 471.11,130.95 475.29,130.95" fill="#fff" stroke="#30c030" stroke-width="0.75"/><polygon points="330.92,19.27 334.72,17.18 334.72,21.36" fill="#fff" stroke="#ff40ff" stroke-width="0.75"/><polygon points="357.52,43.24 361.32,41.15 361.32,45.33" fill="#fff" stroke="#ff40ff" stroke-width="0.75"/><polygon points="384.12,65.34 387.92,63.25 387.92,67.43" fill="#fff" stroke="#ff40ff" stroke-width="0.75"/><polygon points="410.72,85.9 414.52,83.81 414.52,87.99" fill="#fff" stroke="#ff40ff" stroke-width="0.75"/><polygon points="437.32,105.22 441.12,103.13 441.12,107.31" fill="#fff" stroke="#ff40ff" stroke-width="0.75"/><polygon points="472.12,129.14 475.92,127.05 475.92,131.23" fill="#fff" stroke="#ff40ff" stroke-width="0.75"/><polygon points="334.2,16.14 336.29,18.51 334.2,20.89 332.11,18.51" fill="#fff" stroke="#40d8ff" stroke-width="0.75"/><polygon points="360.8,39.85 362.89,42.22 360.8,44.6 358.71,42.22" fill="#fff" stroke="#40d8ff" stroke-width="0.75"/><polygon points="387.4,61.79 389.49,64.16 387.4,66.54 385.31,64.16" fill="#fff" stroke="#40d8ff" stroke-width="0.75"/><polygon points="414,82.27 416.09,84.65 414,87.02 411.91,84.65" fill="#fff" stroke="#40d8ff" stroke-width="0.75"/><polygon points="440.6,101.61 442.69,103.99 440.6,106.36 438.51,103.99" fill="#fff" stroke="#40d8ff" stroke-width="0.75"/><polygon points="475,125.44 477.09,127.82 475,130.19 472.91,127.82" fill="#fff" stroke="#40d8ff" stroke-width="0.75"/><polygon points="333.9,19.52 331.81,15.72 335.99,15.72" fill="#fff" stroke="#2c5cff" stroke-width="0.75"/><polygon points="360.5,43.15 358.41,39.35 362.59,39.35" fill="#fff" stroke="#2c5cff" stroke-width="0.75"/><polygon points="387.1,65.04 385.01,61.24 389.19,61.24" fill="#fff" stroke="#2c5cff" stroke-width="0.75"/><polygon points="413.7,85.47 411.61,81.67 415.79,81.67" fill="#fff" stroke="#2c5cff" stroke-width="0.75"/><polygon points="440.3,104.78 438.21,100.98 442.39,100.98" fill="#fff" stroke="#2c5cff" stroke-width="0.75"/><polygon points="475.2,128.93 473.11,125.13 477.29,125.13" fill="#fff" stroke="#2c5cff" stroke-width="0.75"/><polyline points="323.1,40.2 350.3,61.1 376,82.2 404.8,102 431.9,122.8 466.3,143.5" fill="none" stroke="#a040c8" stroke-width="1"/><polygon points="323.1,37.95 323.68,39.4 325.24,39.5 324.04,40.51 324.42,42.02 323.1,41.19 321.78,42.02 322.16,40.51 320.96,39.5 322.52,39.4" fill="#fff" stroke="#a040c8" stroke-width="0.75"/><polygon points="350.3,58.85 350.88,60.3 352.44,60.4 351.24,61.41 351.62,62.92 350.3,62.09 348.98,62.92 349.36,61.41 348.16,60.4 349.72,60.3" fill="#fff" stroke="#a040c8" stroke-width="0.75"/><polygon points="376,79.95 376.58,81.4 378.14,81.5 376.94,82.51 377.32,84.02 376,83.19 374.68,84.02 375.06,82.51 373.86,81.5 375.42,81.4" fill="#fff" stroke="#a040c8" stroke-width="0.75"/><polygon points="404.8,99.75 405.38,101.2 406.94,101.3 405.74,102.31 406.12,103.82 404.8,102.99 403.48,103.82 403.86,102.31 402.66,101.3 404.22,101.2" fill="#fff" stroke="#a040c8" stroke-width="0.75"/><polygon points="431.9,120.55 432.48,122 434.04,122.1 432.84,123.11 433.22,124.62 431.9,123.79 430.58,124.62 430.96,123.11 429.76,122.1 431.32,122" fill="#fff" stroke="#a040c8" stroke-width="0.75"/><polygon points="466.3,141.25 466.88,142.7 468.44,142.8 467.24,143.81 467.62,145.32 466.3,144.49 464.98,145.32 465.36,143.81 464.16,142.8 465.72,142.7" fill="#fff" stroke="#a040c8" stroke-width="0.75"/><polyline points="308.9,69.4 335.9,90.1 364,108.7 392,126.8 420.7,145.1 454.9,165.8" fill="none" stroke="#b84848" stroke-width="1"/><circle cx="308.9" cy="69.4" r="1.8" fill="#fff" stroke="#b84848" stroke-width="0.75"/><circle cx="335.9" cy="90.1" r="1.8" fill="#fff" stroke="#b84848" stroke-width="0.75"/><circle cx="364" cy="108.7" r="1.8" fill="#fff" stroke="#b84848" stroke-width="0.75"/><circle cx="392" cy="126.8" r="1.8" fill="#fff" stroke="#b84848" stroke-width="0.75"/><circle cx="420.7" cy="145.1" r="1.8" fill="#fff" stroke="#b84848" stroke-width="0.75"/><circle cx="454.9" cy="165.8" r="1.8" fill="#fff" stroke="#b84848" stroke-width="0.75"/><line x1="300.5" y1="6.6" x2="523.8" y2="6.6" stroke="#8c8c8c" stroke-width="1.3"/><line x1="523.8" y1="6.6" x2="523.8" y2="174.5" stroke="#8c8c8c" stroke-width="1.3"/><line x1="300.5" y1="6.6" x2="300.5" y2="175.0" stroke="#444" stroke-width="1"/><line x1="300.0" y1="174.5" x2="523.8" y2="174.5" stroke="#444" stroke-width="1"/><line x1="297.9" y1="174.5" x2="302.0" y2="174.5" stroke="#222" stroke-width="0.8"/><line x1="522.3" y1="174.5" x2="525.3" y2="174.5" stroke="#555" stroke-width="0.8"/><text x="295.4" y="177.35" font-size="7.8" font-weight="bold" text-anchor="end" textLength="7.5" lengthAdjust="spacingAndGlyphs" fill="#111" stroke="#111" stroke-width="0.15">18</text><line x1="299.0" y1="162.5" x2="301.5" y2="162.5" stroke="#222" stroke-width="0.7"/><line x1="297.9" y1="150.5" x2="302.0" y2="150.5" stroke="#222" stroke-width="0.8"/><line x1="522.3" y1="150.5" x2="525.3" y2="150.5" stroke="#555" stroke-width="0.8"/><text x="295.4" y="153.35" font-size="7.8" font-weight="bold" text-anchor="end" textLength="7.5" lengthAdjust="spacingAndGlyphs" fill="#111" stroke="#111" stroke-width="0.15">20</text><line x1="299.0" y1="138.5" x2="301.5" y2="138.5" stroke="#222" stroke-width="0.7"/><line x1="297.9" y1="126.5" x2="302.0" y2="126.5" stroke="#222" stroke-width="0.8"/><line x1="522.3" y1="126.5" x2="525.3" y2="126.5" stroke="#555" stroke-width="0.8"/><text x="295.4" y="129.35" font-size="7.8" font-weight="bold" text-anchor="end" textLength="7.5" lengthAdjust="spacingAndGlyphs" fill="#111" stroke="#111" stroke-width="0.15">22</text><line x1="299.0" y1="114.5" x2="301.5" y2="114.5" stroke="#222" stroke-width="0.7"/><line x1="297.9" y1="102.5" x2="302.0" y2="102.5" stroke="#222" stroke-width="0.8"/><line x1="522.3" y1="102.5" x2="525.3" y2="102.5" stroke="#555" stroke-width="0.8"/><text x="295.4" y="105.35" font-size="7.8" font-weight="bold" text-anchor="end" textLength="7.5" lengthAdjust="spacingAndGlyphs" fill="#111" stroke="#111" stroke-width="0.15">24</text><line x1="299.0" y1="90.5" x2="301.5" y2="90.5" stroke="#222" stroke-width="0.7"/><line x1="297.9" y1="78.5" x2="302.0" y2="78.5" stroke="#222" stroke-width="0.8"/><line x1="522.3" y1="78.5" x2="525.3" y2="78.5" stroke="#555" stroke-width="0.8"/><text x="295.4" y="81.35" font-size="7.8" font-weight="bold" text-anchor="end" textLength="7.5" lengthAdjust="spacingAndGlyphs" fill="#111" stroke="#111" stroke-width="0.15">26</text><line x1="299.0" y1="66.5" x2="301.5" y2="66.5" stroke="#222" stroke-width="0.7"/><line x1="297.9" y1="54.5" x2="302.0" y2="54.5" stroke="#222" stroke-width="0.8"/><line x1="522.3" y1="54.5" x2="525.3" y2="54.5" stroke="#555" stroke-width="0.8"/><text x="295.4" y="57.35" font-size="7.8" font-weight="bold" text-anchor="end" textLength="7.5" lengthAdjust="spacingAndGlyphs" fill="#111" stroke="#111" stroke-width="0.15">28</text><line x1="299.0" y1="42.5" x2="301.5" y2="42.5" stroke="#222" stroke-width="0.7"/><line x1="297.9" y1="30.5" x2="302.0" y2="30.5" stroke="#222" stroke-width="0.8"/><line x1="522.3" y1="30.5" x2="525.3" y2="30.5" stroke="#555" stroke-width="0.8"/><text x="295.4" y="33.35" font-size="7.8" font-weight="bold" text-anchor="end" textLength="7.5" lengthAdjust="spacingAndGlyphs" fill="#111" stroke="#111" stroke-width="0.15">30</text><line x1="299.0" y1="18.5" x2="301.5" y2="18.5" stroke="#222" stroke-width="0.7"/><line x1="297.9" y1="6.5" x2="302.0" y2="6.5" stroke="#222" stroke-width="0.8"/><line x1="522.3" y1="6.5" x2="525.3" y2="6.5" stroke="#555" stroke-width="0.8"/><text x="295.4" y="9.35" font-size="7.8" font-weight="bold" text-anchor="end" textLength="7.5" lengthAdjust="spacingAndGlyphs" fill="#111" stroke="#111" stroke-width="0.15">32</text><line x1="300.4" y1="171.9" x2="300.4" y2="176.5" stroke="#222" stroke-width="0.8"/><line x1="300.4" y1="6.6" x2="300.4" y2="8.6" stroke="#222" stroke-width="0.8"/><line x1="319" y1="173.5" x2="319" y2="175.7" stroke="#222" stroke-width="0.7"/><text x="300.4" y="185.4" font-size="7.6" font-weight="bold" text-anchor="middle" fill="#111" stroke="#111" stroke-width="0.15">9.0</text><line x1="337.6" y1="171.9" x2="337.6" y2="176.5" stroke="#222" stroke-width="0.8"/><line x1="337.6" y1="6.6" x2="337.6" y2="8.6" stroke="#222" stroke-width="0.8"/><line x1="356.2" y1="173.5" x2="356.2" y2="175.7" stroke="#222" stroke-width="0.7"/><text x="337.6" y="185.4" font-size="7.6" font-weight="bold" text-anchor="middle" fill="#111" stroke="#111" stroke-width="0.15">9.5</text><line x1="374.8" y1="171.9" x2="374.8" y2="176.5" stroke="#222" stroke-width="0.8"/><line x1="374.8" y1="6.6" x2="374.8" y2="8.6" stroke="#222" stroke-width="0.8"/><line x1="393.4" y1="173.5" x2="393.4" y2="175.7" stroke="#222" stroke-width="0.7"/><text x="374.8" y="185.4" font-size="7.6" font-weight="bold" text-anchor="middle" fill="#111" stroke="#111" stroke-width="0.15">10.0</text><line x1="412" y1="171.9" x2="412" y2="176.5" stroke="#222" stroke-width="0.8"/><line x1="412" y1="6.6" x2="412" y2="8.6" stroke="#222" stroke-width="0.8"/><line x1="430.6" y1="173.5" x2="430.6" y2="175.7" stroke="#222" stroke-width="0.7"/><text x="412" y="185.4" font-size="7.6" font-weight="bold" text-anchor="middle" fill="#111" stroke="#111" stroke-width="0.15">10.5</text><line x1="449.2" y1="171.9" x2="449.2" y2="176.5" stroke="#222" stroke-width="0.8"/><line x1="449.2" y1="6.6" x2="449.2" y2="8.6" stroke="#222" stroke-width="0.8"/><line x1="467.8" y1="173.5" x2="467.8" y2="175.7" stroke="#222" stroke-width="0.7"/><text x="449.2" y="185.4" font-size="7.6" font-weight="bold" text-anchor="middle" fill="#111" stroke="#111" stroke-width="0.15">11.0</text><line x1="486.4" y1="171.9" x2="486.4" y2="176.5" stroke="#222" stroke-width="0.8"/><line x1="486.4" y1="6.6" x2="486.4" y2="8.6" stroke="#222" stroke-width="0.8"/><line x1="505" y1="173.5" x2="505" y2="175.7" stroke="#222" stroke-width="0.7"/><text x="486.4" y="185.4" font-size="7.6" font-weight="bold" text-anchor="middle" fill="#111" stroke="#111" stroke-width="0.15">11.5</text><line x1="523.6" y1="171.9" x2="523.6" y2="176.5" stroke="#222" stroke-width="0.8"/><line x1="523.6" y1="6.6" x2="523.6" y2="8.6" stroke="#222" stroke-width="0.8"/><text x="523.6" y="185.4" font-size="7.6" font-weight="bold" text-anchor="middle" fill="#111" stroke="#111" stroke-width="0.15">12.0</text><text transform="translate(277.2,90.5) rotate(-90)" font-size="7.7" font-weight="bold" text-anchor="middle" textLength="76" lengthAdjust="spacingAndGlyphs" fill="#111">critical current / kA</text><text x="412.5" y="199.7" font-size="8.5" font-weight="bold" text-anchor="middle" fill="#111">magnetic field, <tspan font-style="italic">B</tspan><tspan font-size="5.2" dy="1.6">total</tspan><tspan dy="-1.6"> / T</tspan></text><rect x="377.3" y="7.6" width="57.2" height="8.6" fill="#fff" stroke="#888" stroke-width="0.6"/><text x="379" y="15.1" font-size="6.9" textLength="54.3" lengthAdjust="spacingAndGlyphs" fill="#111" stroke="#111" stroke-width="0.12">@ 0.1μV/cm, 50 A/s</text><rect x="434.8" y="0.5" width="97.6" height="93" fill="#fff" stroke="#999" stroke-width="0.6"/><text x="435.8" y="6.6" font-size="6.0" font-weight="bold" textLength="91.6" lengthAdjust="spacingAndGlyphs" fill="#111" text-decoration="underline">expected: from single wire data</text><line x1="435" y1="12.7" x2="450.2" y2="12.7" stroke="#111" stroke-width="1" stroke-dasharray="2,1.1"/><text x="451.2" y="14.2" font-size="6.3" textLength="11.6" lengthAdjust="spacingAndGlyphs" fill="#222" stroke="#222" stroke-width="0.1">min.</text><line x1="464.3" y1="12.7" x2="479.4" y2="12.7" stroke="#aaa" stroke-width="0.7" stroke-dasharray="1.6,1.2"/><text x="480" y="14.2" font-size="6.3" textLength="12.6" lengthAdjust="spacingAndGlyphs" fill="#222" stroke="#222" stroke-width="0.1">max.</text><text x="435.8" y="22.2" font-size="6.1" font-weight="bold" textLength="94.6" lengthAdjust="spacingAndGlyphs" fill="#111" text-decoration="underline">measurement: FRESCA (cable 1)</text><line x1="435.5" y1="27.6" x2="449.7" y2="27.6" stroke="#ff7070" stroke-width="0.9"/><circle cx="442.6" cy="27.6" r="1.6" fill="#fff" stroke="#ff7070" stroke-width="0.7"/><text x="451.3" y="29.9" font-size="6.3" textLength="14.8" lengthAdjust="spacingAndGlyphs" fill="#111" stroke="#111" stroke-width="0.12">virgin</text><line x1="435.5" y1="35.28" x2="449.7" y2="35.28" stroke="#40dd40" stroke-width="0.9"/><polygon points="442.6,33.36 440.84,36.56 444.36,36.56" fill="#fff" stroke="#40dd40" stroke-width="0.7"/><text x="451.3" y="37.58" font-size="6.3" textLength="45.7" lengthAdjust="spacingAndGlyphs" fill="#111" stroke="#111" stroke-width="0.12">130 MPa (at RT)</text><line x1="435.5" y1="42.96" x2="449.7" y2="42.96" stroke="#7070ff" stroke-width="0.9"/><polygon points="442.6,44.88 440.84,41.68 444.36,41.68" fill="#fff" stroke="#7070ff" stroke-width="0.7"/><text x="451.3" y="45.26" font-size="6.3" textLength="45.7" lengthAdjust="spacingAndGlyphs" fill="#111" stroke="#111" stroke-width="0.12">140 MPa (at RT)</text><line x1="435.5" y1="50.64" x2="449.7" y2="50.64" stroke="#70f0ff" stroke-width="0.9"/><polygon points="442.6,48.64 444.36,50.64 442.6,52.64 440.84,50.64" fill="#fff" stroke="#70f0ff" stroke-width="0.7"/><text x="451.3" y="52.94" font-size="6.3" textLength="45.7" lengthAdjust="spacingAndGlyphs" fill="#111" stroke="#111" stroke-width="0.12">150 MPa (at RT)</text><line x1="435.5" y1="58.32" x2="449.7" y2="58.32" stroke="#ff50ff" stroke-width="0.9"/><polygon points="440.68,58.32 443.88,56.56 443.88,60.08" fill="#fff" stroke="#ff50ff" stroke-width="0.7"/><text x="451.3" y="60.62" font-size="6.3" textLength="45.7" lengthAdjust="spacingAndGlyphs" fill="#111" stroke="#111" stroke-width="0.12">160 MPa (at RT)</text><line x1="435.5" y1="66" x2="449.7" y2="66" stroke="#c8c890" stroke-width="0.9"/><polygon points="444.52,66 441.32,64.24 441.32,67.76" fill="#fff" stroke="#c8c890" stroke-width="0.7"/><text x="451.3" y="68.3" font-size="6.3" textLength="45.7" lengthAdjust="spacingAndGlyphs" fill="#111" stroke="#111" stroke-width="0.12">170 MPa (at RT)</text><line x1="435.5" y1="73.68" x2="449.7" y2="73.68" stroke="#4448b0" stroke-width="0.9"/><polygon points="443.99,74.48 442.6,75.28 441.21,74.48 441.21,72.88 442.6,72.08 443.99,72.88" fill="#fff" stroke="#4448b0" stroke-width="0.7"/><text x="451.3" y="75.98" font-size="6.3" textLength="45.7" lengthAdjust="spacingAndGlyphs" fill="#111" stroke="#111" stroke-width="0.12">180 MPa (at RT)</text><line x1="435.5" y1="81.36" x2="449.7" y2="81.36" stroke="#a050c0" stroke-width="0.9"/><polygon points="442.6,79.36 443.12,80.65 444.5,80.74 443.44,81.63 443.78,82.98 442.6,82.24 441.42,82.98 441.76,81.63 440.7,80.74 442.08,80.65" fill="#fff" stroke="#a050c0" stroke-width="0.7"/><text x="451.3" y="83.66" font-size="6.3" textLength="45.7" lengthAdjust="spacingAndGlyphs" fill="#111" stroke="#111" stroke-width="0.12">190 MPa (at RT)</text><line x1="435.5" y1="89.04" x2="449.7" y2="89.04" stroke="#d09090" stroke-width="0.9"/><circle cx="442.6" cy="89.04" r="1.6" fill="#fff" stroke="#d09090" stroke-width="0.7"/><text x="451.3" y="91.34" font-size="6.3" textLength="56.8" lengthAdjust="spacingAndGlyphs" fill="#111" stroke="#111" stroke-width="0.12">20x 190 MPa (at RT)</text></svg>
<div class="cap" style="left:0px;top:210.2px;width:230.04px;transform:scaleX(1.145);transform-origin:0 0;">
<span class="ln">(a) <i>I</i><sub>c</sub>-<i>σ</i><sub>trans</sub> for the two Rutherford cables in</span>
<span class="ln">the double-stack specimen (cable 1 and cable 2)</span>
<span class="ln">at the minimum and the maximum background</span>
<span class="ln last">magnetic fields with the different stress levels.</span>
</div>
<div class="cap" style="left:268.1px;top:210.2px;width:229.34px;transform:scaleX(1.145);transform-origin:0 0;">
<span class="ln">(b) <i>I</i><sub>c</sub>-<i>B</i><sub>total</sub> for a single Rutherford cable in the</span>
<span class="ln">double-stack specimen after application of the</span>
<span class="ln" style="letter-spacing:-0.06px">different stress levels. The dashed lines represent</span>
<span class="ln">the minimum and maximum currents calculated</span>
<span class="ln">from strands extracted from the cable prior to</span>
<span class="ln last">applying any mechanical load.</span>
</div>
</body></html>
